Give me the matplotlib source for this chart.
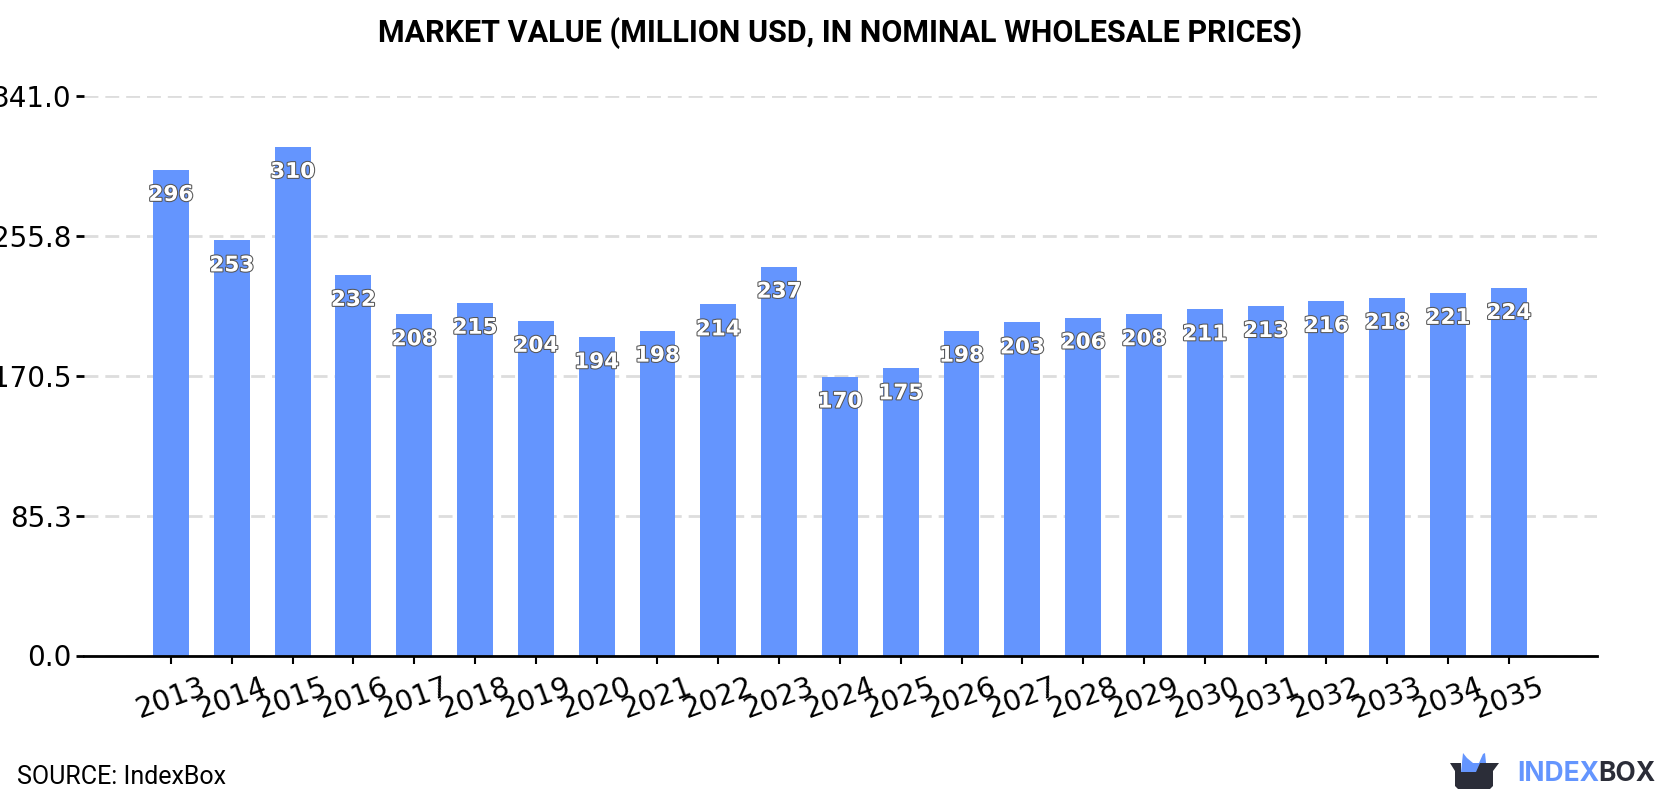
#!/usr/bin/env python3

import matplotlib
matplotlib.use("Agg")
import matplotlib.pyplot as plt
import matplotlib.patheffects as pe
from matplotlib.patches import Polygon

years = [str(y) for y in range(2013, 2036)]
values = [296, 253, 310, 232, 208, 215, 204, 194, 198, 214, 237, 170,
          175, 198, 203, 206, 208, 211, 213, 216, 218, 221, 224]
y_ticks = [0.0, 85.3, 170.5, 255.8, 341.0]

BLUE = "#6495fe"
DARK = "#2b2d38"
W, H = 1680, 800

fig = plt.figure(figsize=(W / 100, H / 100), dpi=100)
ax = fig.add_axes([84 / W, 1 - 655.5 / H, (1597 - 84) / W, (655.5 - 96) / H])

ax.bar(range(len(years)), values, width=0.59, color=BLUE, zorder=2)

ax.set_xlim(-1.43, 23.45)
ax.set_ylim(0, 341)

for s in ["top", "right", "left"]:
    ax.spines[s].set_visible(False)
ax.spines["bottom"].set_linewidth(2)

ax.set_yticks(y_ticks)
ax.set_yticklabels(["%.1f" % t for t in y_ticks])
ax.set_xticks(range(len(years)))
ax.set_xticklabels(years, rotation=20)
ax.tick_params(axis="y", labelsize=20, length=6, width=2, pad=3)
ax.tick_params(axis="x", labelsize=20.5, length=6, width=1.5, pad=6)
ax.grid(axis="y", color="#dddddd", linestyle=(0, (5, 2.5)), linewidth=2, zorder=0)
ax.set_axisbelow(True)

# value labels sit just under the top of each bar
for i, v in enumerate(values):
    ax.annotate(str(v), (i, v), xytext=(0, -18), textcoords="offset points",
                ha="center", va="center", fontsize=15.5, fontweight="bold",
                color="white", zorder=3,
                path_effects=[pe.withStroke(linewidth=1.5, foreground="#555555")])

fig.text(0.5, 1 - 33 / H, "MARKET VALUE (MILLION USD, IN NOMINAL WHOLESALE PRICES)",
         ha="center", va="center", fontsize=22, fontweight="bold",
         family="Roboto", color="black")
fig.text(17 / W, 1 - 777 / H, "SOURCE: IndexBox", ha="left", va="center",
         fontsize=18, family="Roboto", color="black")

# logo, laid out in pixels across the whole figure
logo = fig.add_axes([0, 0, 1, 1], facecolor="none", zorder=5)
logo.set_xlim(0, W)
logo.set_ylim(H, 0)
logo.axis("off")
logo.add_patch(Polygon([(1461, 772), (1463, 753), (1467, 758), (1473, 763),
                        (1479, 763), (1483, 754), (1485, 753), (1487, 772)],
                       color=BLUE, lw=0))
logo.add_patch(Polygon([(1450, 763), (1461, 763), (1461, 772), (1476, 772),
                        (1480, 763), (1499, 763), (1493, 771), (1493, 786),
                        (1490, 789), (1458, 789), (1455, 786), (1455, 771)],
                       color=DARK, lw=0))
fig.text(1517 / W, 1 - 774 / H, "INDEX", ha="left", va="center", fontsize=19,
         fontweight="bold", family="Inter", color=BLUE)
fig.text(1598 / W, 1 - 774 / H, "BOX", ha="left", va="center", fontsize=19,
         fontweight="bold", family="Inter", color=DARK)

fig.savefig("out.png", dpi=100)
